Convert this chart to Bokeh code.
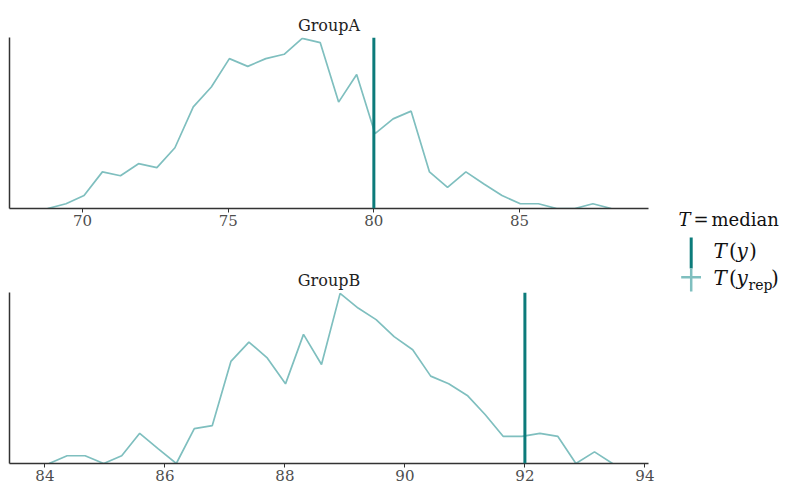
from bokeh.plotting import figure
from bokeh.models import Range1d, FixedTicker, Span
from bokeh.layouts import row, column
from bokeh.embed import file_html
from bokeh.resources import INLINE
from bokeh.core.properties import value

# ---------------- data ----------------
group_names = ["GroupA", "GroupB"]

a_bins = [68.80, 69.43, 70.05, 70.68, 71.30, 71.92, 72.55, 73.17, 73.80, 74.42,
          75.04, 75.67, 76.29, 76.92, 77.54, 78.16, 78.79, 79.41, 80.04, 80.66,
          81.28, 81.91, 82.53, 83.16, 83.78, 84.40, 85.03, 85.65, 86.28, 86.90,
          87.52, 88.15]
a_counts = [0.0, 1.1, 3.0, 8.5, 7.6, 10.4, 9.5, 14.1, 23.6, 28.2,
            34.8, 33.0, 34.8, 35.8, 39.5, 38.5, 24.7, 31.1, 17.4, 20.8,
            22.6, 8.5, 4.9, 8.5, 5.7, 3.0, 1.1, 1.1, 0.0, 0.0,
            1.1, 0.0]
a_ty = 80.0
a_ticks = [70, 75, 80, 85]
a_xlim = (67.49, 89.43)

b_bins = [84.07, 84.37, 84.67, 84.98, 85.28, 85.58, 85.89, 86.19, 86.49, 86.79,
          87.10, 87.40, 87.70, 88.01, 88.31, 88.61, 88.92, 89.22, 89.52, 89.82,
          90.13, 90.43, 90.73, 91.04, 91.34, 91.64, 91.95, 92.25, 92.55, 92.85,
          93.16, 93.46]
b_counts = [0.0, 1.0, 1.0, 0.0, 1.0, 3.9, 1.9, 0.0, 4.5, 4.9,
            13.2, 15.7, 13.7, 10.3, 16.7, 12.8, 22.0, 20.1, 18.6, 16.4,
            14.7, 11.3, 10.3, 8.8, 6.3, 3.5, 3.5, 3.9, 3.5, 0.0,
            1.5, 0.0]
b_ty = 92.0
b_ticks = [84, 86, 88, 90, 92, 94]
b_xlim = (83.41, 94.06)

LIGHT = "#7fbfbf"
DARK = "#0c7b7a"
AXIS = "#333333"
FONT = "DejaVu Serif"


def panel(title, bins, counts, ty, ticks, xlim, top, bottom):
    p = figure(frame_width=639, frame_height=171, output_backend="svg",
               toolbar_location=None, title=title,
               x_range=Range1d(*xlim), y_range=Range1d(0, max(counts) * 1.005),
               min_border_left=9, min_border_right=12,
               min_border_top=top, min_border_bottom=bottom)
    p.outline_line_color = None
    p.grid.visible = False
    p.background_fill_color = "white"
    p.line(bins, counts, line_color=LIGHT, line_width=1.7)
    p.add_layout(Span(location=ty, dimension="height", line_color=DARK, line_width=3))

    p.title.align = "center"
    p.title.text_font = FONT
    p.title.text_font_size = "16px"
    p.title.text_font_style = "normal"
    p.title.text_color = "#222222"
    p.title.standoff = 6

    xa = p.xaxis[0]
    xa.ticker = FixedTicker(ticks=ticks)
    xa.major_label_text_font = FONT
    xa.major_label_text_font_size = "15px"
    xa.major_label_text_color = "#4d4d4d"
    xa.major_label_standoff = 2
    xa.major_tick_out = 4
    xa.major_tick_in = 0
    xa.major_tick_line_color = AXIS
    xa.minor_tick_line_color = None
    xa.axis_line_color = AXIS
    xa.axis_line_width = 1.5

    ya = p.yaxis[0]
    ya.ticker = FixedTicker(ticks=[])
    ya.major_tick_out = 0
    ya.major_tick_in = 0
    ya.minor_tick_line_color = None
    ya.major_label_standoff = 0
    ya.axis_line_color = AXIS
    ya.axis_line_width = 1.5
    return p


pA = panel(group_names[0], a_bins, a_counts, a_ty, a_ticks, a_xlim, 37, 42)
pB = panel(group_names[1], b_bins, b_counts, b_ty, b_ticks, b_xlim, 42, 23)

# ---------------- legend ----------------
leg = figure(width=131, height=486, output_backend="svg", toolbar_location=None,
             x_range=Range1d(660, 791), y_range=Range1d(486, 0),
             min_border=0, x_axis_location=None, y_axis_location=None)
leg.outline_line_color = None
leg.grid.visible = False

# keys
leg.segment(x0=[690.7], y0=[237], x1=[690.7], y1=[268], line_color=DARK, line_width=3)
leg.segment(x0=[690.7, 680.7], y0=[268, 276.7], x1=[690.7, 700.5], y1=[291, 276.7],
            line_color=LIGHT, line_width=2.5)

# title: T = median, then item labels
for xx, yy, tt, st, sz in [
    (678, 219, "T", "italic", "18px"), (693, 219, "=", "normal", "18px"),
    (711, 219, "median", "normal", "18px"),
    (713, 250, "T", "italic", "20px"), (728.5, 250, "(", "normal", "20px"),
    (736, 250, "y", "italic", "20px"), (748.5, 250, ")", "normal", "20px"),
    (713, 277, "T", "italic", "20px"), (728.5, 277, "(", "normal", "20px"),
    (736, 277, "y", "italic", "20px"), (748, 284, "rep", "normal", "14px"),
    (770.5, 277, ")", "normal", "20px"),
]:
    leg.text(x=[xx], y=[yy], text=[tt], text_font=value(FONT), text_font_style=st,
             text_font_size=sz, text_baseline="middle", text_color="#111111")

layout = row(column(pA, pB), leg)
open("out.html", "w").write(file_html(layout, INLINE))
